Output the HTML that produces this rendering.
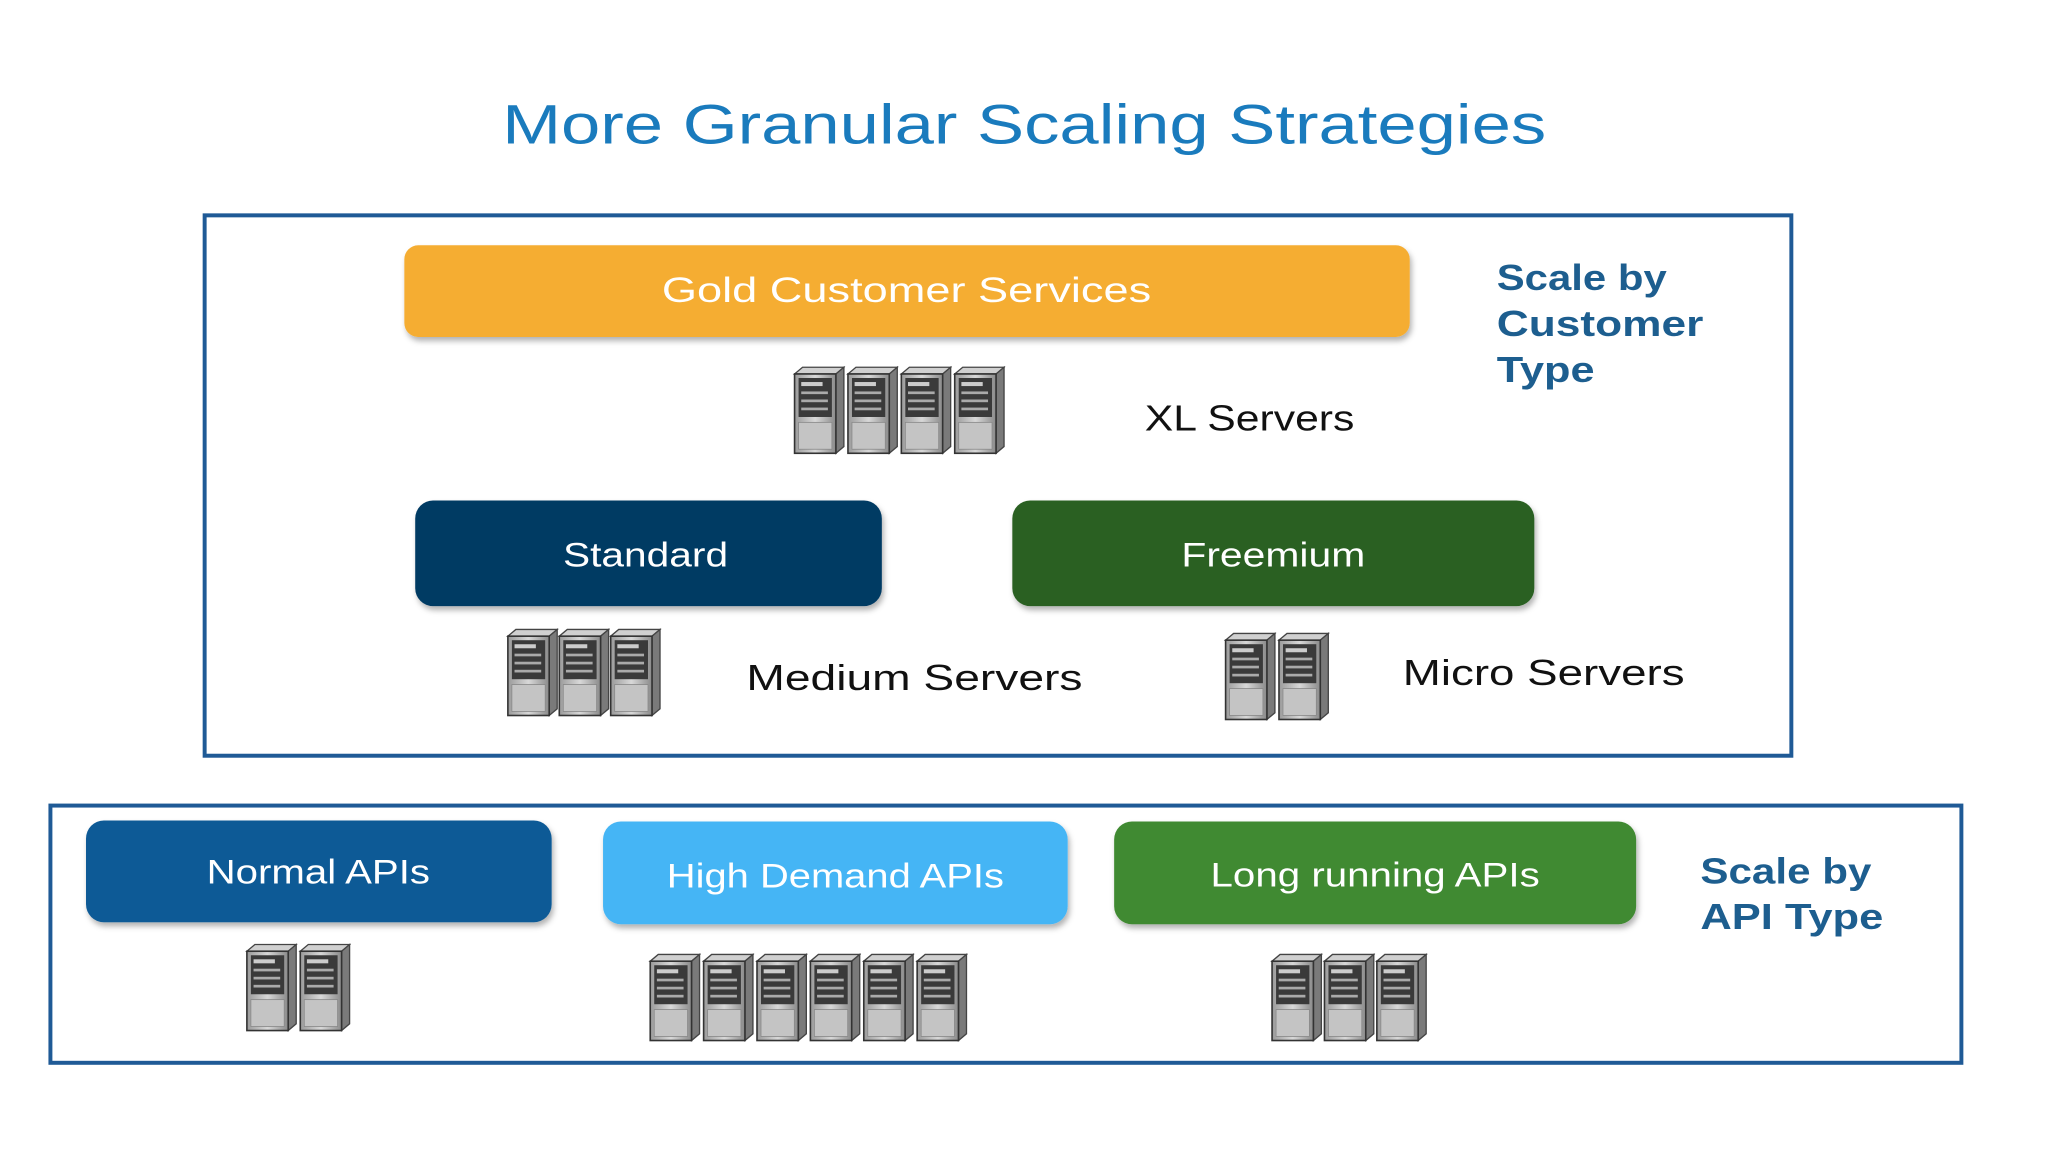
<!DOCTYPE html>
<html><head><meta charset="utf-8"><style>
html,body{margin:0;padding:0;background:#fff;width:2048px;height:1152px;overflow:hidden}
text{font-family:"Liberation Sans",sans-serif}
</style></head><body>
<svg width="2048" height="1152" viewBox="0 0 2048 1152" xmlns="http://www.w3.org/2000/svg">
<defs>
<linearGradient id="sg" x1="0" x2="1"><stop offset="0" stop-color="#9a9a9a"/><stop offset=".5" stop-color="#d8d8d8"/><stop offset="1" stop-color="#8a8a8a"/></linearGradient>
<filter id="sh" x="-5%" y="-10%" width="110%" height="130%"><feDropShadow dx="2" dy="4" stdDeviation="3" flood-color="#000" flood-opacity=".3"/></filter>
<symbol id="srv" viewBox="0 0 40 66">
<path d="M2 6 L8 1 L39 1 L33 6 Z" fill="#d0d0d0" stroke="#444" stroke-width="1"/>
<path d="M33 6 L39 1 L39 60 L33 65 Z" fill="#7a7a7a" stroke="#444" stroke-width="1"/>
<rect x="2" y="6" width="31" height="59" fill="url(#sg)" stroke="#333" stroke-width="1.2"/>
<rect x="5" y="9" width="25" height="29" fill="#3a3a3a"/>
<rect x="7" y="12" width="16" height="3" fill="#ccc"/>
<rect x="7" y="19" width="20" height="2" fill="#aaa"/>
<rect x="7" y="25" width="20" height="2" fill="#aaa"/>
<rect x="7" y="31" width="20" height="2" fill="#aaa"/>
<rect x="5" y="42" width="25" height="20" fill="#c4c4c4" stroke="#888" stroke-width=".6"/>
</symbol>
</defs>
<g transform="scale(0.9886,0.997)">
<text x="1036" y="144" font-size="56" fill="#1a7bbd" text-anchor="middle" textLength="1056" lengthAdjust="spacingAndGlyphs">More Granular Scaling Strategies</text>

<rect x="207" y="216" width="1605" height="542" fill="none" stroke="#1f5a96" stroke-width="4"/>
<rect x="51" y="808" width="1933" height="258" fill="none" stroke="#1f5a96" stroke-width="4"/>

<rect x="409" y="246" width="1017" height="92" rx="14" fill="#f5ad33" filter="url(#sh)"/>
<text x="917" y="303" font-size="35" fill="#fff" text-anchor="middle" textLength="495" lengthAdjust="spacingAndGlyphs">Gold Customer Services</text>

<g font-weight="bold" font-size="36" fill="#1d5e8f">
<text x="1514" y="291" textLength="172" lengthAdjust="spacingAndGlyphs">Scale by</text>
<text x="1514" y="337" textLength="209" lengthAdjust="spacingAndGlyphs">Customer</text>
<text x="1514" y="383" textLength="99" lengthAdjust="spacingAndGlyphs">Type</text>
<text x="1720" y="886" textLength="173" lengthAdjust="spacingAndGlyphs">Scale by</text>
<text x="1720" y="932" textLength="185" lengthAdjust="spacingAndGlyphs">API Type</text>
</g>

<g>
<use href="#srv" x="801" y="367" width="54" height="89"/>
<use href="#srv" x="855" y="367" width="54" height="89"/>
<use href="#srv" x="909" y="367" width="54" height="89"/>
<use href="#srv" x="963" y="367" width="54" height="89"/>
</g>
<g font-size="36" fill="#111">
<text x="1158" y="432" textLength="212" lengthAdjust="spacingAndGlyphs">XL Servers</text>
<text x="755" y="692" textLength="340" lengthAdjust="spacingAndGlyphs">Medium Servers</text>
<text x="1419" y="687" textLength="285" lengthAdjust="spacingAndGlyphs">Micro Servers</text>
</g>

<rect x="420" y="502" width="472" height="106" rx="18" fill="#063a63" filter="url(#sh)"/>
<text x="653" y="568" font-size="34" fill="#fff" text-anchor="middle" textLength="167" lengthAdjust="spacingAndGlyphs">Standard</text>
<rect x="1024" y="502" width="528" height="106" rx="18" fill="#2a6022" filter="url(#sh)"/>
<text x="1288" y="568" font-size="34" fill="#fff" text-anchor="middle" textLength="186" lengthAdjust="spacingAndGlyphs">Freemium</text>

<g>
<use href="#srv" x="511" y="630" width="54" height="89"/>
<use href="#srv" x="563" y="630" width="54" height="89"/>
<use href="#srv" x="615" y="630" width="54" height="89"/>
<use href="#srv" x="1237" y="634" width="54" height="89"/>
<use href="#srv" x="1291" y="634" width="54" height="89"/>
</g>

<rect x="87" y="823" width="471" height="102" rx="18" fill="#0c5a96" filter="url(#sh)"/>
<text x="322" y="886" font-size="34" fill="#fff" text-anchor="middle" textLength="226" lengthAdjust="spacingAndGlyphs">Normal APIs</text>
<rect x="610" y="824" width="470" height="103" rx="18" fill="#45b5f5" filter="url(#sh)"/>
<text x="845" y="890" font-size="34" fill="#fff" text-anchor="middle" textLength="341" lengthAdjust="spacingAndGlyphs">High Demand APIs</text>
<rect x="1127" y="824" width="528" height="103" rx="18" fill="#3f8a30" filter="url(#sh)"/>
<text x="1391" y="889" font-size="34" fill="#fff" text-anchor="middle" textLength="333" lengthAdjust="spacingAndGlyphs">Long running APIs</text>

<g>
<use href="#srv" x="247" y="946" width="54" height="89"/>
<use href="#srv" x="301" y="946" width="54" height="89"/>
<use href="#srv" x="655" y="956" width="54" height="89"/>
<use href="#srv" x="709" y="956" width="54" height="89"/>
<use href="#srv" x="763" y="956" width="54" height="89"/>
<use href="#srv" x="817" y="956" width="54" height="89"/>
<use href="#srv" x="871" y="956" width="54" height="89"/>
<use href="#srv" x="925" y="956" width="54" height="89"/>
<use href="#srv" x="1284" y="956" width="54" height="89"/>
<use href="#srv" x="1337" y="956" width="54" height="89"/>
<use href="#srv" x="1390" y="956" width="54" height="89"/>
</g>
</g>
</svg>
</body></html>
